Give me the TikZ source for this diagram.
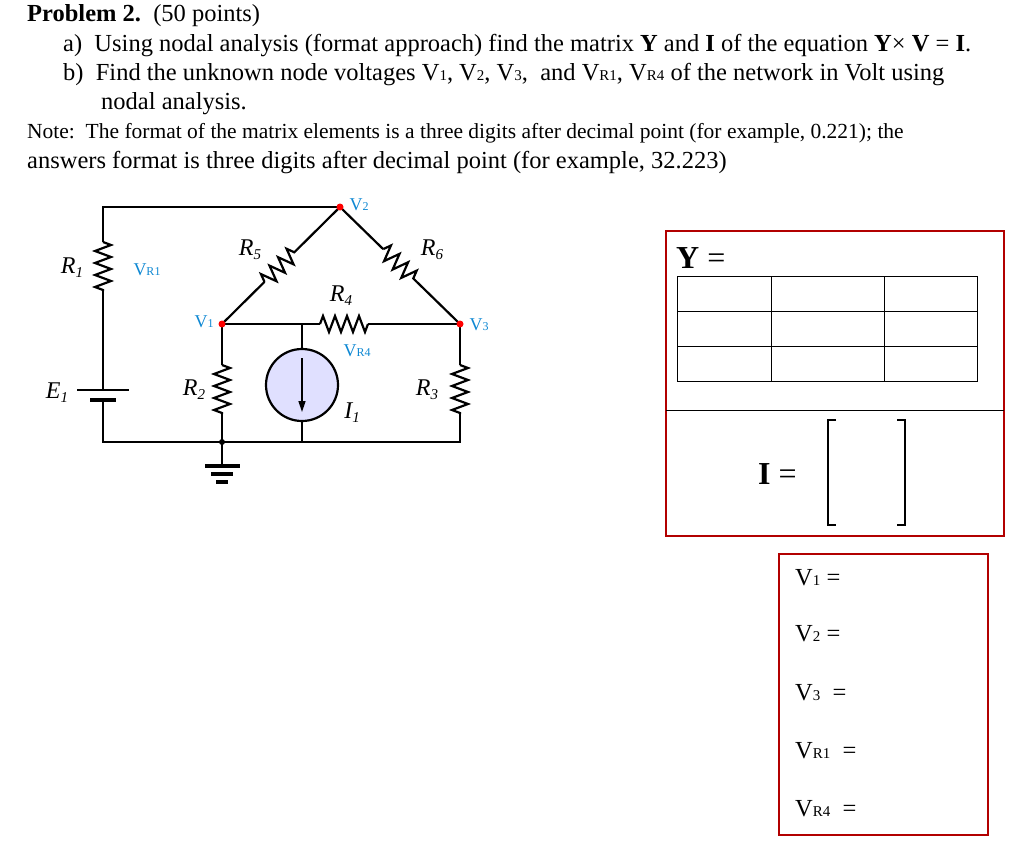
\documentclass[tikz,border=0pt]{standalone}
\usepackage{fontspec}
\setmainfont{Liberation Serif}
\usetikzlibrary{decorations.pathmorphing,arrows.meta,calc}
\newcommand{\sm}[1]{{\fontsize{15}{15}\selectfont #1}}
\newcommand{\smb}[1]{{\fontsize{12}{12}\selectfont #1}}
\newcommand{\lsub}[1]{\raisebox{-4pt}{\fontsize{15}{15}\selectfont\itshape #1}}
\begin{document}
\begin{tikzpicture}[x=1pt,y=-1pt,
  txt/.style={anchor=base west,inner sep=0pt,font=\fontsize{24.5}{26}\selectfont},
  wire/.style={line width=2.2pt},
  res/.style={line width=2.2pt,decorate,decoration={zigzag,segment length=12,amplitude=8}},
  blu/.style={text=cyan!70!blue,inner sep=1pt,font=\fontsize{18}{18}\selectfont},
  lab/.style={inner sep=1pt,font=\itshape\fontsize{24}{24}\selectfont},
  redbox/.style={draw=red!70!black,line width=1.8pt},
  dot/.style={circle,fill=red,inner sep=0pt,minimum size=7pt}]
\useasboundingbox (0,0) rectangle (1024,848);
% header
\node[txt] (t1) at (27,22) {\textbf{Problem 2.}\ \ (50 points)};
\node[txt] (t2) at (63,52) {a)\ \ Using nodal analysis (format approach) find the matrix \textbf{Y} and \textbf{I} of the equation \textbf{Y}× \textbf{V} = \textbf{I}.};
\node[txt] (t3) at (63,81) {b)\ \ Find the unknown node voltages V\sm{1}, V\sm{2}, V\sm{3},\ \ and V\sm{R1}, V\sm{R4} of the network in Volt using};
\node[txt] (t4) at (101,110) {nodal analysis.};
\node[txt,font=\fontsize{21.5}{22}\selectfont] (t5) at (27,138) {Note:\ \ The format of the matrix elements is a three digits after decimal point (for example, 0.221); the};
\node[txt] (t6) at (27,168) {answers format is three digits after decimal point (for example, 32.223)};
% circuit coordinates
\coordinate (tl) at (103,207);
\coordinate (V2) at (340,207);
\coordinate (V1) at (222,324);
\coordinate (V3) at (460,324);
\coordinate (bl) at (103,442);
\coordinate (G) at (222,442);
\coordinate (bm) at (302,442);
\coordinate (br) at (460,442);
\coordinate (tm) at (302,324);
\coordinate (r1a) at (103,242); \coordinate (r1b) at (103,291);
\coordinate (e1a) at (103,390); \coordinate (e1b) at (103,400);
\coordinate (r2a) at (222,365); \coordinate (r2b) at (222,414);
\coordinate (r3a) at (460,365); \coordinate (r3b) at (460,414);
\coordinate (r4a) at (320,324); \coordinate (r4b) at (368,324);
\node[circle,draw,line width=2.2pt,fill=blue!12,minimum size=72pt,inner sep=0pt] (I1) at (302,385) {};
\draw[wire] (r1a) -- (tl) -- (V2);
\draw[res] (r1a) -- (r1b);
\draw[wire] (r1b) -- (e1a);
\draw[wire] (77,390) -- (129,390);
\draw[wire,line width=3.5pt] (90,400) -- (116,400);
\draw[wire] (e1b) -- (bl) -- (G) -- (bm) -- (br) -- (r3b);
\draw[res] (r3a) -- (r3b);
\draw[wire] (r3a) -- (V3) -- (r4b);
\draw[res] (r4b) -- (r4a);
\draw[wire] (r4a) -- (V1) -- (r2a);
\draw[res] (r2a) -- (r2b);
\draw[wire] (r2b) -- (G);
\draw[wire] (tm) -- (I1.north);
\draw[wire] (I1.south) -- (bm);
\draw[line width=1.6pt,-{Triangle[length=11pt,width=7pt]}] (302,358) -- (302,412);
\draw[wire] (V1) -- ($(V1)!0.36!(V2)$) coordinate (r5a);
\draw[res] (r5a) -- ($(V1)!0.64!(V2)$) coordinate (r5b);
\draw[wire] (r5b) -- (V2);
\draw[wire] (V2) -- ($(V2)!0.36!(V3)$) coordinate (r6a);
\draw[res] (r6a) -- ($(V2)!0.64!(V3)$) coordinate (r6b);
\draw[wire] (r6b) -- (V3);
\draw[wire] (G) -- (222,466);
\draw[wire,line width=3.5pt] (205,466) -- (240,466);
\draw[wire,line width=3.5pt] (211,474) -- (233,474);
\draw[wire,line width=3.5pt] (216,482) -- (228,482);
\fill (G) circle (3pt);
\node[dot] (d2) at (V2) {};
\node[dot] (d1) at (V1) {};
\node[dot] (d3) at (V3) {};
% labels
\node[blu] (lv2) at (359,205) {V\smb{2}};
\node[blu] (lv1) at (204,322) {V\smb{1}};
\node[blu] (lv3) at (479,325) {V\smb{3}};
\node[blu] (lvr1) at (147,270) {V\smb{R1}};
\node[blu] (lvr4) at (357,351) {V\smb{R4}};
\node[lab] (lr1) at (72,268) {R\lsub{1}};
\node[lab] (lr5) at (250,250) {R\lsub{5}};
\node[lab] (lr6) at (432,250) {R\lsub{6}};
\node[lab] (lr4) at (341,296) {R\lsub{4}};
\node[lab] (le1) at (57,393) {E\lsub{1}};
\node[lab] (lr2) at (194,390) {R\lsub{2}};
\node[lab] (lr3) at (427,390) {R\lsub{3}};
\node[lab] (li1) at (352,413) {I\lsub{1}};
% Y box
\draw[redbox] (666,231) rectangle (1004,536);
\draw[line width=0.9pt] (666,410) -- (1004,410);
\node[txt,font=\fontsize{32}{32}\selectfont] (Y) at (676,268) {\textbf{Y} =};
\draw[line width=0.8pt] (677,276) rectangle (977,381);
\foreach \yy in {311,346} \draw[line width=0.8pt] (677,\yy) -- (977,\yy);
\foreach \xx in {771,884} \draw[line width=0.8pt] (\xx,276) -- (\xx,381);
\node[txt,font=\fontsize{32}{32}\selectfont] (I) at (758,484) {\textbf{I} =};
\draw[line width=1.6pt] (836,420) -- (828,420) -- (828,525) -- (836,525);
\draw[line width=1.6pt] (897,420) -- (905,420) -- (905,525) -- (897,525);
% answers box
\draw[redbox] (779,554) rectangle (988,835);
\node[txt] (a1) at (795,585) {V\sm{1} =};
\node[txt] (a2) at (795,641) {V\sm{2} =};
\node[txt] (a3) at (795,700) {V\sm{3}\ \ =};
\node[txt] (a4) at (795,758) {V\sm{R1}\ \ =};
\node[txt] (a5) at (795,816) {V\sm{R4}\ \ =};
\end{tikzpicture}
\end{document}
